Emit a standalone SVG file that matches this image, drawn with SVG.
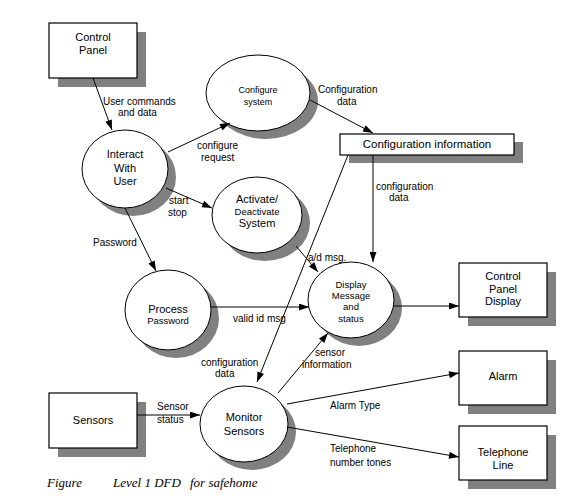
<svg xmlns="http://www.w3.org/2000/svg" width="562" height="498" viewBox="0 0 562 498">
<defs>
<marker id="ah" viewBox="0 0 10 7" refX="10" refY="3.5" markerWidth="11" markerHeight="7" orient="auto" markerUnits="userSpaceOnUse"><path d="M0,0 L10,3.5 L0,7 z" fill="#000"/></marker>
<style>
.box{fill:#fff;stroke:#000;stroke-width:1.2}
.sh{fill:#808080}
.proc{fill:#fff;stroke:#000;stroke-width:1}
.t{font-family:"Liberation Sans",Arial,sans-serif;fill:#000;text-anchor:middle}
.l{font-family:"Liberation Sans",Arial,sans-serif;fill:#000;font-size:10px}
.c{stroke:#000;stroke-width:1;fill:none;marker-end:url(#ah)}
.cap{font-family:"Liberation Serif","Times New Roman",serif;font-style:italic;font-size:13px;fill:#000}
</style>
</defs>
<rect width="562" height="498" fill="#fff"/>

<g id="control-panel">
<rect class="sh" x="58" y="32" width="88" height="55"/>
<rect class="box" x="49" y="23" width="88" height="55"/>
<text class="t" x="93" y="41" font-size="11">Control</text>
<text class="t" x="93" y="54" font-size="11">Panel</text>
</g>

<g id="interact">
<ellipse class="sh" cx="133" cy="177" rx="43" ry="39"/>
<ellipse class="proc" cx="125" cy="169" rx="43" ry="39"/>
<text class="t" x="125" y="158" font-size="11">Interact</text>
<text class="t" x="125" y="172" font-size="11">With</text>
<text class="t" x="125" y="185" font-size="11">User</text>
</g>

<g id="configure">
<ellipse class="sh" cx="266" cy="101" rx="52" ry="38"/>
<ellipse class="proc" cx="258" cy="93" rx="52" ry="38"/>
<text class="t" x="258" y="93" font-size="9">Configure</text>
<text class="t" x="258" y="105" font-size="9">system</text>
</g>

<g id="config-info">
<rect class="sh" x="349" y="142" width="174" height="21"/>
<rect class="box" x="340" y="134" width="174" height="21"/>
<text class="t" x="427" y="148" font-size="11.5">Configuration information</text>
</g>

<g id="activate">
<ellipse class="sh" cx="265" cy="223" rx="45" ry="38"/>
<ellipse class="proc" cx="257" cy="215" rx="45" ry="38"/>
<text class="t" x="257" y="203" font-size="11">Activate/</text>
<text class="t" x="257" y="215" font-size="9.5">Deactivate</text>
<text class="t" x="257" y="227" font-size="11">System</text>
</g>

<g id="process-password">
<ellipse class="sh" cx="176" cy="318" rx="43" ry="40"/>
<ellipse class="proc" cx="168" cy="310" rx="43" ry="40"/>
<text class="t" x="168" y="313" font-size="11">Process</text>
<text class="t" x="168" y="324" font-size="9.5">Password</text>
</g>

<g id="display">
<ellipse class="sh" cx="359" cy="308" rx="43" ry="38"/>
<ellipse class="proc" cx="351" cy="300" rx="43" ry="38"/>
<text class="t" x="351" y="288" font-size="9.5">Display</text>
<text class="t" x="351" y="299" font-size="9.5">Message</text>
<text class="t" x="351" y="310" font-size="9.5">and</text>
<text class="t" x="351" y="322" font-size="9.5">status</text>
</g>

<g id="control-panel-display">
<rect class="sh" x="468" y="272" width="88" height="54"/>
<rect class="box" x="459" y="263" width="88" height="54"/>
<text class="t" x="503" y="280" font-size="11">Control</text>
<text class="t" x="503" y="293" font-size="11">Panel</text>
<text class="t" x="503" y="305" font-size="11">Display</text>
</g>

<g id="monitor">
<ellipse class="sh" cx="252" cy="432" rx="44" ry="38"/>
<ellipse class="proc" cx="244" cy="424" rx="44" ry="38"/>
<text class="t" x="244" y="421" font-size="11">Monitor</text>
<text class="t" x="244" y="435" font-size="11">Sensors</text>
</g>

<g id="sensors">
<rect class="sh" x="58" y="402" width="88" height="55"/>
<rect class="box" x="49" y="393" width="88" height="55"/>
<text class="t" x="93" y="424" font-size="11">Sensors</text>
</g>

<g id="alarm">
<rect class="sh" x="468" y="360" width="88" height="54"/>
<rect class="box" x="459" y="351" width="88" height="54"/>
<text class="t" x="503" y="380" font-size="11">Alarm</text>
</g>

<g id="telephone">
<rect class="sh" x="468" y="435" width="88" height="54"/>
<rect class="box" x="459" y="426" width="88" height="54"/>
<text class="t" x="503" y="456" font-size="11">Telephone</text>
<text class="t" x="503" y="469" font-size="11">Line</text>
</g>

<g id="connectors">
<line class="c" x1="93" y1="78" x2="112" y2="130"/>
<line class="c" x1="168" y1="152" x2="230" y2="123"/>
<line class="c" x1="310" y1="100" x2="373" y2="133"/>
<line class="c" x1="373" y1="155" x2="373" y2="262"/>
<line class="c" x1="348" y1="155" x2="257" y2="382"/>
<line class="c" x1="166" y1="188" x2="212" y2="208"/>
<line class="c" x1="125" y1="208" x2="156" y2="271"/>
<line class="c" x1="296" y1="246" x2="318" y2="272"/>
<line class="c" x1="211" y1="307" x2="309" y2="307"/>
<line class="c" x1="394" y1="306" x2="459" y2="306"/>
<line class="c" x1="137" y1="415" x2="200" y2="415"/>
<line class="c" x1="278" y1="393" x2="328" y2="333"/>
<line class="c" x1="287" y1="404" x2="459" y2="373"/>
<line class="c" x1="287" y1="427" x2="459" y2="457"/>
</g>

<g id="labels">
<text class="l" x="103" y="105">User commands</text>
<text class="l" x="118" y="116">and data</text>
<text class="l" x="318" y="93">Configuration</text>
<text class="l" x="337" y="105">data</text>
<text class="l" x="197" y="149">configure</text>
<text class="l" x="201" y="161">request</text>
<text class="l" x="169" y="204">start</text>
<text class="l" x="168" y="216">stop</text>
<text class="l" x="93" y="246">Password</text>
<text class="l" x="308" y="261">a/d msg.</text>
<text class="l" x="233" y="322">valid id msg</text>
<text class="l" x="376" y="190" font-size="9">configuration</text>
<text class="l" x="389" y="201" font-size="9">data</text>
<text class="l" x="201" y="366" font-size="9">configuration</text>
<text class="l" x="215" y="377" font-size="9">data</text>
<text class="l" x="315" y="356">sensor</text>
<text class="l" x="302" y="368">information</text>
<text class="l" x="157" y="410">Sensor</text>
<text class="l" x="157" y="423">status</text>
<text class="l" x="330" y="409">Alarm Type</text>
<text class="l" x="330" y="452">Telephone</text>
<text class="l" x="330" y="466">number tones</text>
</g>

<g id="caption">
<text class="cap" x="47" y="487">Figure</text>
<text class="cap" x="113" y="487">Level 1 DFD</text>
<text class="cap" x="190" y="487">for safehome</text>
</g>
</svg>
